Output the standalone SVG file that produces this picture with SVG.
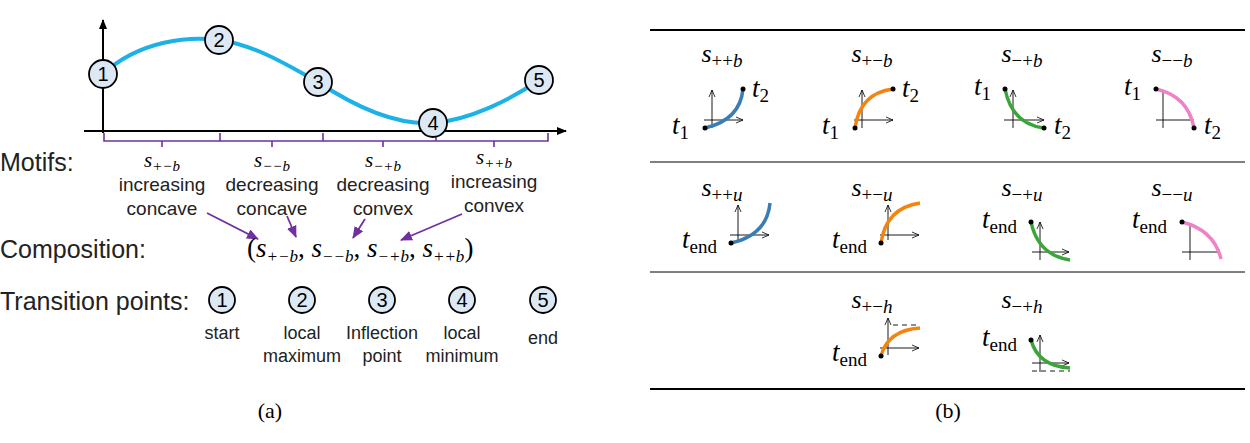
<svg xmlns="http://www.w3.org/2000/svg" width="1250" height="443" viewBox="0 0 1250 443">
<defs>
<marker id="ah" markerWidth="10" markerHeight="10" refX="9" refY="5" orient="auto" markerUnits="userSpaceOnUse"><path d="M0,1 L10,5 L0,9 z" fill="#000"/></marker>
<marker id="ap" markerWidth="12" markerHeight="10" refX="11" refY="5" orient="auto" markerUnits="userSpaceOnUse"><path d="M0,0 L12,5 L0,10 z" fill="#7030A0"/></marker>
<marker id="ao" markerWidth="8" markerHeight="8" refX="7" refY="4" orient="auto" markerUnits="userSpaceOnUse"><path d="M0,1 L7,4 L0,7" fill="none" stroke="#000" stroke-width="0.8"/></marker>
</defs>
<style>
.sans{font-family:"Liberation Sans","DejaVu Sans",sans-serif;fill:#222}
.m{font-family:"Liberation Serif","DejaVu Serif",serif;font-style:italic;fill:#000}
.r{font-family:"Liberation Serif","DejaVu Serif",serif;fill:#000}
.node circle{fill:#DCE9F5;stroke:#000;stroke-width:1.8}
.node text{font-family:"Liberation Sans",sans-serif;font-size:20px;text-anchor:middle;fill:#000}
.br{fill:none;stroke:#7030A0;stroke-width:1.6}
.ax{stroke:#000;stroke-width:0.9;fill:none}
.c{fill:none;stroke-width:3.5;stroke-linecap:butt}
.dot{fill:#000}
.dash{stroke:#000;stroke-width:0.9;stroke-dasharray:5,4}
</style>
<!-- panel a -->
<line x1="103" y1="133" x2="103" y2="20" stroke="#000" stroke-width="2" marker-end="url(#ah)"/>
<line x1="84" y1="131" x2="566" y2="131" stroke="#000" stroke-width="2" marker-end="url(#ah)"/>
<path d="M103,74 C140,40 190,36 219,40 C260,46 295,70 318,82 C360,110 400,125 433,123 C470,120 510,100 539,80" fill="none" stroke="#1CB2E8" stroke-width="4"/>
<path class="br" d="M104,133 V141 H548 V133 M220,133 V141 M323,133 V141 M436,133 V141 M162,141 V147 M272,141 V147 M383,141 V147 M494,141 V147"/>
<g id="n1" class="node"><circle cx="103" cy="74" r="14"/><text x="103" y="81">1</text></g>
<g id="n2" class="node"><circle cx="219" cy="40" r="14"/><text x="219" y="47">2</text></g>
<g id="n3" class="node"><circle cx="318" cy="82" r="14"/><text x="318" y="89">3</text></g>
<g id="n4" class="node"><circle cx="433" cy="123" r="14"/><text x="433" y="130">4</text></g>
<g id="n5" class="node"><circle cx="539" cy="80" r="14"/><text x="539" y="87">5</text></g>
<text class="sans" x="0" y="171" font-size="25">Motifs:</text>
<g font-size="19" text-anchor="middle">
<text class="m" x="162" y="167" font-size="21">s<tspan font-size="15" dy="4">+−b</tspan></text>
<text class="sans" x="162" y="191">increasing</text><text class="sans" x="162" y="215">concave</text>
<text class="m" x="272" y="167" font-size="21">s<tspan font-size="15" dy="4">−−b</tspan></text>
<text class="sans" x="272" y="191">decreasing</text><text class="sans" x="272" y="215">concave</text>
<text class="m" x="383" y="167" font-size="21">s<tspan font-size="15" dy="4">−+b</tspan></text>
<text class="sans" x="383" y="191">decreasing</text><text class="sans" x="383" y="215">convex</text>
<text class="m" x="494" y="164" font-size="21">s<tspan font-size="15" dy="4">++b</tspan></text>
<text class="sans" x="494" y="188">increasing</text><text class="sans" x="494" y="212">convex</text>
</g>
<g id="connectors">
<line x1="207" y1="213" x2="258" y2="239" stroke="#7030A0" stroke-width="1.8" marker-end="url(#ap)"/>
<line x1="287" y1="216" x2="296" y2="237" stroke="#7030A0" stroke-width="1.8" marker-end="url(#ap)"/>
<line x1="365" y1="219" x2="353" y2="238" stroke="#7030A0" stroke-width="1.8" marker-end="url(#ap)"/>
<line x1="462" y1="214" x2="401" y2="240" stroke="#7030A0" stroke-width="1.8" marker-end="url(#ap)"/>
</g>
<text class="sans" x="0" y="258" font-size="25">Composition:</text>
<text class="m" x="247" y="257" font-size="27"><tspan font-style="normal">(</tspan>s<tspan font-size="17" dy="5">+−b</tspan><tspan dy="-5" font-style="normal">, </tspan>s<tspan font-size="17" dy="5">−−b</tspan><tspan dy="-5" font-style="normal">, </tspan>s<tspan font-size="17" dy="5">−+b</tspan><tspan dy="-5" font-style="normal">, </tspan>s<tspan font-size="17" dy="5">++b</tspan><tspan dy="-5" font-style="normal">)</tspan></text>
<text class="sans" x="0" y="310" font-size="25">Transition points:</text>
<g id="t1" class="node"><circle cx="222" cy="300" r="13"/><text x="222" y="307">1</text></g>
<g id="t2" class="node"><circle cx="302" cy="300" r="13"/><text x="302" y="307">2</text></g>
<g id="t3" class="node"><circle cx="382" cy="300" r="13"/><text x="382" y="307">3</text></g>
<g id="t4" class="node"><circle cx="462" cy="300" r="13"/><text x="462" y="307">4</text></g>
<g id="t5" class="node"><circle cx="543" cy="300" r="13"/><text x="543" y="307">5</text></g>
<g class="sans" font-size="18" text-anchor="middle">
<text x="222" y="339">start</text>
<text x="302" y="339">local</text><text x="302" y="362">maximum</text>
<text x="382" y="339">Inflection</text><text x="382" y="362">point</text>
<text x="462" y="339">local</text><text x="462" y="362">minimum</text>
<text x="543" y="344">end</text>
</g>
<text class="r" x="270" y="418" font-size="22" text-anchor="middle">(a)</text>
<!-- panel b -->
<line x1="650" y1="30" x2="1245" y2="30" stroke="#000" stroke-width="1.8"/>
<line x1="650" y1="162" x2="1245" y2="162" stroke="#000" stroke-width="1"/>
<line x1="650" y1="272" x2="1245" y2="272" stroke="#000" stroke-width="1"/>
<line x1="650" y1="389" x2="1245" y2="389" stroke="#000" stroke-width="1.8"/>
<g font-size="26">
<text class="m" x="722" y="62" text-anchor="middle">s<tspan font-size="19" dy="5" font-style="normal">++</tspan><tspan font-size="19">b</tspan></text>
<text class="m" x="872" y="62" text-anchor="middle">s<tspan font-size="19" dy="5" font-style="normal">+−</tspan><tspan font-size="19">b</tspan></text>
<text class="m" x="1022" y="62" text-anchor="middle">s<tspan font-size="19" dy="5" font-style="normal">−+</tspan><tspan font-size="19">b</tspan></text>
<text class="m" x="1172" y="62" text-anchor="middle">s<tspan font-size="19" dy="5" font-style="normal">−−</tspan><tspan font-size="19">b</tspan></text>
<text class="m" x="722" y="196" text-anchor="middle">s<tspan font-size="19" dy="5" font-style="normal">++</tspan><tspan font-size="19">u</tspan></text>
<text class="m" x="872" y="196" text-anchor="middle">s<tspan font-size="19" dy="5" font-style="normal">+−</tspan><tspan font-size="19">u</tspan></text>
<text class="m" x="1022" y="196" text-anchor="middle">s<tspan font-size="19" dy="5" font-style="normal">−+</tspan><tspan font-size="19">u</tspan></text>
<text class="m" x="1172" y="196" text-anchor="middle">s<tspan font-size="19" dy="5" font-style="normal">−−</tspan><tspan font-size="19">u</tspan></text>
<text class="m" x="872" y="308" text-anchor="middle">s<tspan font-size="19" dy="5" font-style="normal">+−</tspan><tspan font-size="19">h</tspan></text>
<text class="m" x="1022" y="308" text-anchor="middle">s<tspan font-size="19" dy="5" font-style="normal">−+</tspan><tspan font-size="19">h</tspan></text>
</g>
<!-- row1 -->
<g id="c1">
<line class="ax" x1="712" y1="128" x2="712" y2="90" marker-end="url(#ao)"/><line class="ax" x1="704" y1="120" x2="743" y2="120" marker-end="url(#ao)"/>
<path class="c" stroke="#3A7DB5" d="M705,128 Q740,120 743,89"/>
<circle class="dot" cx="705" cy="128" r="2.5"/><circle class="dot" cx="743" cy="89" r="2.5"/>
<text class="m" x="672" y="134" font-size="27">t<tspan font-size="19" dy="5" font-style="normal">1</tspan></text>
<text class="m" x="752" y="97" font-size="27">t<tspan font-size="19" dy="5" font-style="normal">2</tspan></text>
</g>
<g id="c2">
<line class="ax" x1="862" y1="128" x2="862" y2="90" marker-end="url(#ao)"/><line class="ax" x1="854" y1="120" x2="893" y2="120" marker-end="url(#ao)"/>
<path class="c" stroke="#F5840F" d="M855,128 Q860,93 893,89"/>
<circle class="dot" cx="855" cy="128" r="2.5"/><circle class="dot" cx="893" cy="89" r="2.5"/>
<text class="m" x="822" y="134" font-size="27">t<tspan font-size="19" dy="5" font-style="normal">1</tspan></text>
<text class="m" x="902" y="97" font-size="27">t<tspan font-size="19" dy="5" font-style="normal">2</tspan></text>
</g>
<g id="c3">
<line class="ax" x1="1013" y1="128" x2="1013" y2="90" marker-end="url(#ao)"/><line class="ax" x1="1004" y1="120" x2="1044" y2="120" marker-end="url(#ao)"/>
<path class="c" stroke="#3AA63A" d="M1005,89 Q1012,124 1044,128"/>
<circle class="dot" cx="1005" cy="89" r="2.5"/><circle class="dot" cx="1044" cy="128" r="2.5"/>
<text class="m" x="974" y="95" font-size="27">t<tspan font-size="19" dy="5" font-style="normal">1</tspan></text>
<text class="m" x="1054" y="134" font-size="27">t<tspan font-size="19" dy="5" font-style="normal">2</tspan></text>
</g>
<g id="c4">
<line class="ax" x1="1163" y1="128" x2="1163" y2="90"/><line class="ax" x1="1156" y1="120" x2="1194" y2="120"/>
<path class="c" stroke="#EE82C6" d="M1156,89 Q1188,96 1194,128"/>
<circle class="dot" cx="1156" cy="89" r="2.5"/><circle class="dot" cx="1194" cy="128" r="2.5"/>
<text class="m" x="1124" y="95" font-size="27">t<tspan font-size="19" dy="5" font-style="normal">1</tspan></text>
<text class="m" x="1204" y="134" font-size="27">t<tspan font-size="19" dy="5" font-style="normal">2</tspan></text>
</g>
<!-- row2 -->
<g id="c5">
<line class="ax" x1="738" y1="240" x2="738" y2="205" marker-end="url(#ao)"/><line class="ax" x1="730" y1="235" x2="769" y2="235" marker-end="url(#ao)"/>
<path class="c" stroke="#3A7DB5" d="M731,243 Q767,235 770,203"/>
<circle class="dot" cx="731" cy="243" r="2.5"/>
<text class="m" x="682" y="248" font-size="27">t<tspan font-size="19" dy="5" font-style="normal">end</tspan></text>
</g>
<g id="c6">
<line class="ax" x1="888" y1="240" x2="888" y2="205" marker-end="url(#ao)"/><line class="ax" x1="880" y1="235" x2="919" y2="235" marker-end="url(#ao)"/>
<path class="c" stroke="#F5840F" d="M881,243 Q886,208 920,203"/>
<circle class="dot" cx="881" cy="243" r="2.5"/>
<text class="m" x="832" y="248" font-size="27">t<tspan font-size="19" dy="5" font-style="normal">end</tspan></text>
</g>
<g id="c7">
<line class="ax" x1="1040" y1="260" x2="1040" y2="222" marker-end="url(#ao)"/><line class="ax" x1="1032" y1="252" x2="1069" y2="252" marker-end="url(#ao)"/>
<path class="c" stroke="#3AA63A" d="M1031,222 Q1038,255 1070,260"/>
<circle class="dot" cx="1031" cy="222" r="2.5"/>
<text class="m" x="982" y="228" font-size="27">t<tspan font-size="19" dy="5" font-style="normal">end</tspan></text>
</g>
<g id="c8">
<line class="ax" x1="1190" y1="260" x2="1190" y2="224"/><line class="ax" x1="1182" y1="252" x2="1219" y2="252"/>
<path class="c" stroke="#EE82C6" d="M1182,222 Q1214,230 1221,259"/>
<circle class="dot" cx="1182" cy="222" r="2.5"/>
<text class="m" x="1132" y="228" font-size="27">t<tspan font-size="19" dy="5" font-style="normal">end</tspan></text>
</g>
<!-- row3 -->
<g id="c9">
<line class="ax" x1="888" y1="355" x2="888" y2="318" marker-end="url(#ao)"/><line class="ax" x1="880" y1="348" x2="919" y2="348" marker-end="url(#ao)"/>
<line class="dash" x1="893" y1="325" x2="920" y2="325"/>
<path class="c" stroke="#F5840F" d="M881,356 Q888,330 920,328"/>
<circle class="dot" cx="881" cy="356" r="2.5"/>
<text class="m" x="832" y="361" font-size="27">t<tspan font-size="19" dy="5" font-style="normal">end</tspan></text>
</g>
<g id="c10">
<line class="ax" x1="1040" y1="372" x2="1040" y2="335" marker-end="url(#ao)"/><line class="ax" x1="1032" y1="363" x2="1069" y2="363" marker-end="url(#ao)"/>
<line class="dash" x1="1032" y1="371" x2="1070" y2="371"/>
<path class="c" stroke="#3AA63A" d="M1031,340 Q1038,366 1070,368"/>
<circle class="dot" cx="1031" cy="340" r="2.5"/>
<text class="m" x="982" y="346" font-size="27">t<tspan font-size="19" dy="5" font-style="normal">end</tspan></text>
</g>
<text class="r" x="948" y="418" font-size="22" text-anchor="middle">(b)</text>
</svg>
